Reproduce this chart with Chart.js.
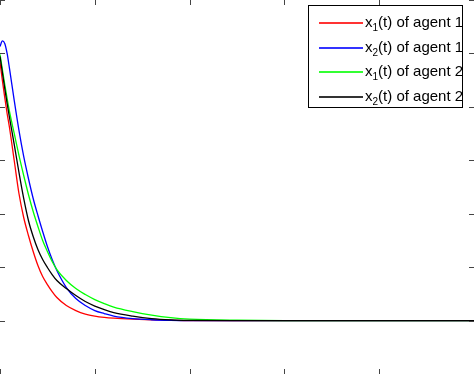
<!DOCTYPE html>
<html>
<head>
<meta charset="utf-8">
<script src="https://cdn.jsdelivr.net/npm/chart.js@4/dist/chart.umd.min.js"></script>
<style>
  body { margin: 0; background: #fff; }
  #wrap { position: relative; width: 474px; height: 374px; overflow: hidden; }
  #legend {
    position: absolute; left: 308px; top: 5px; width: 155px; height: 103px;
    border: 1px solid #000; background: #fff; box-sizing: border-box;
    font-family: "Liberation Sans", Arial, sans-serif; font-size: 15px; color: #000;
  }
  .swatch { position: absolute; left: 10px; width: 44px; height: 2px; opacity: 0.8; }
  .lbl { position: absolute; left: 56px; height: 20px; line-height: 20px; white-space: nowrap; }
  .lbl sub { font-size: 10px; vertical-align: -4px; line-height: 0; }
</style>
</head>
<body>
<div id="wrap">
  <canvas id="chart" width="474" height="374"></canvas>
  <div id="legend"></div>
</div>
<script>
// time samples
const t = [0, 0.25, 0.5, 0.75, 1, 1.5, 2, 2.5, 3, 3.5, 4, 4.5, 5, 5.5, 6, 7, 8, 9, 10, 11, 12, 14, 16, 18, 20, 25, 30, 40, 50];

const x1Agent1 = [4.831, 4.494, 4.176, 3.876, 3.614, 2.996, 2.378, 1.929, 1.592, 1.292, 1.030, 0.824, 0.674, 0.543, 0.431, 0.281, 0.187, 0.122, 0.084, 0.060, 0.045, 0.026, 0.013, 0.006, 0, 0, 0, 0, 0];
const x2Agent1 = [5.131, 5.234, 5.187, 5.000, 4.719, 4.120, 3.558, 3.071, 2.659, 2.285, 1.966, 1.667, 1.386, 1.142, 0.936, 0.618, 0.412, 0.281, 0.187, 0.131, 0.084, 0.037, 0.015, 0.004, 0, 0, 0, 0, 0];
const x1Agent2 = [4.981, 4.700, 4.419, 4.157, 3.914, 3.502, 3.090, 2.715, 2.360, 2.041, 1.760, 1.498, 1.292, 1.105, 0.955, 0.749, 0.599, 0.487, 0.393, 0.318, 0.253, 0.169, 0.103, 0.056, 0.028, 0.006, 0, 0, 0];
const x2Agent2 = [4.944, 4.644, 4.345, 4.064, 3.801, 3.296, 2.772, 2.285, 1.873, 1.573, 1.330, 1.142, 0.993, 0.861, 0.749, 0.599, 0.468, 0.356, 0.272, 0.206, 0.150, 0.084, 0.037, 0.013, 0.004, 0, 0, 0, 0];

const xTicks = [0, 10, 20, 30, 40, 50];
const yTicks = [-1, 0, 1, 2, 3, 4, 5, 6];

const seriesVar = ['1', '2', '1', '2'];
const seriesAgent = ['1', '1', '2', '2'];
const seriesData = [x1Agent1, x2Agent1, x1Agent2, x2Agent2];
const seriesColor = ['#ff0000', '#0000ff', '#00ff00', '#000000'];

const datasets = seriesData.map((vals, i) => ({
  label: 'x' + seriesVar[i] + '(t) of agent ' + seriesAgent[i],
  data: vals.map((v, j) => ({ x: t[j], y: v })),
  borderColor: seriesColor[i],
  borderWidth: 1.3,
  pointRadius: 0,
  fill: false,
  cubicInterpolationMode: 'monotone',
  order: seriesData.length - i, // later series on top, like matlab
}));

// matlab style inward ticks
const innerTicks = {
  id: 'innerTicks',
  afterDraw(chart) {
    const { ctx, chartArea: a, scales } = chart;
    const len = 5;
    ctx.save();
    ctx.strokeStyle = '#444';
    ctx.lineWidth = 1;
    ctx.beginPath();
    xTicks.forEach((v) => {
      const px = Math.round(scales.x.getPixelForValue(v)) + 0.5;
      ctx.moveTo(px, a.bottom); ctx.lineTo(px, a.bottom - len);
      ctx.moveTo(px, a.top); ctx.lineTo(px, a.top + len);
    });
    yTicks.forEach((v) => {
      const py = Math.round(scales.y.getPixelForValue(v)) + 0.5;
      ctx.moveTo(a.left, py); ctx.lineTo(a.left + len, py);
      ctx.moveTo(a.right, py); ctx.lineTo(a.right - len, py);
    });
    ctx.stroke();
    ctx.restore();
  },
};

const chart = new Chart(document.getElementById('chart'), {
  type: 'line',
  data: { datasets },
  options: {
    responsive: false,
    animation: false,
    layout: { padding: 0 },
    plugins: { legend: { display: false }, tooltip: { enabled: false } },
    scales: {
      x: { type: 'linear', min: 0, max: 50, display: false },
      y: { type: 'linear', min: -1, max: 6, display: false },
    },
  },
  plugins: [innerTicks],
});

// legend with subscripts
const legend = document.getElementById('legend');
chart.data.datasets.forEach((ds, i) => {
  const mid = Math.round(16 + i * 24.6);
  const sw = document.createElement('div');
  sw.className = 'swatch';
  sw.style.top = mid + 'px';
  sw.style.background = ds.borderColor;
  const lbl = document.createElement('div');
  lbl.className = 'lbl';
  lbl.style.top = (mid - 10) + 'px';
  lbl.innerHTML = 'x<sub>' + seriesVar[i] + '</sub>(t) of agent ' + seriesAgent[i];
  legend.appendChild(sw);
  legend.appendChild(lbl);
});
</script>
</body>
</html>
